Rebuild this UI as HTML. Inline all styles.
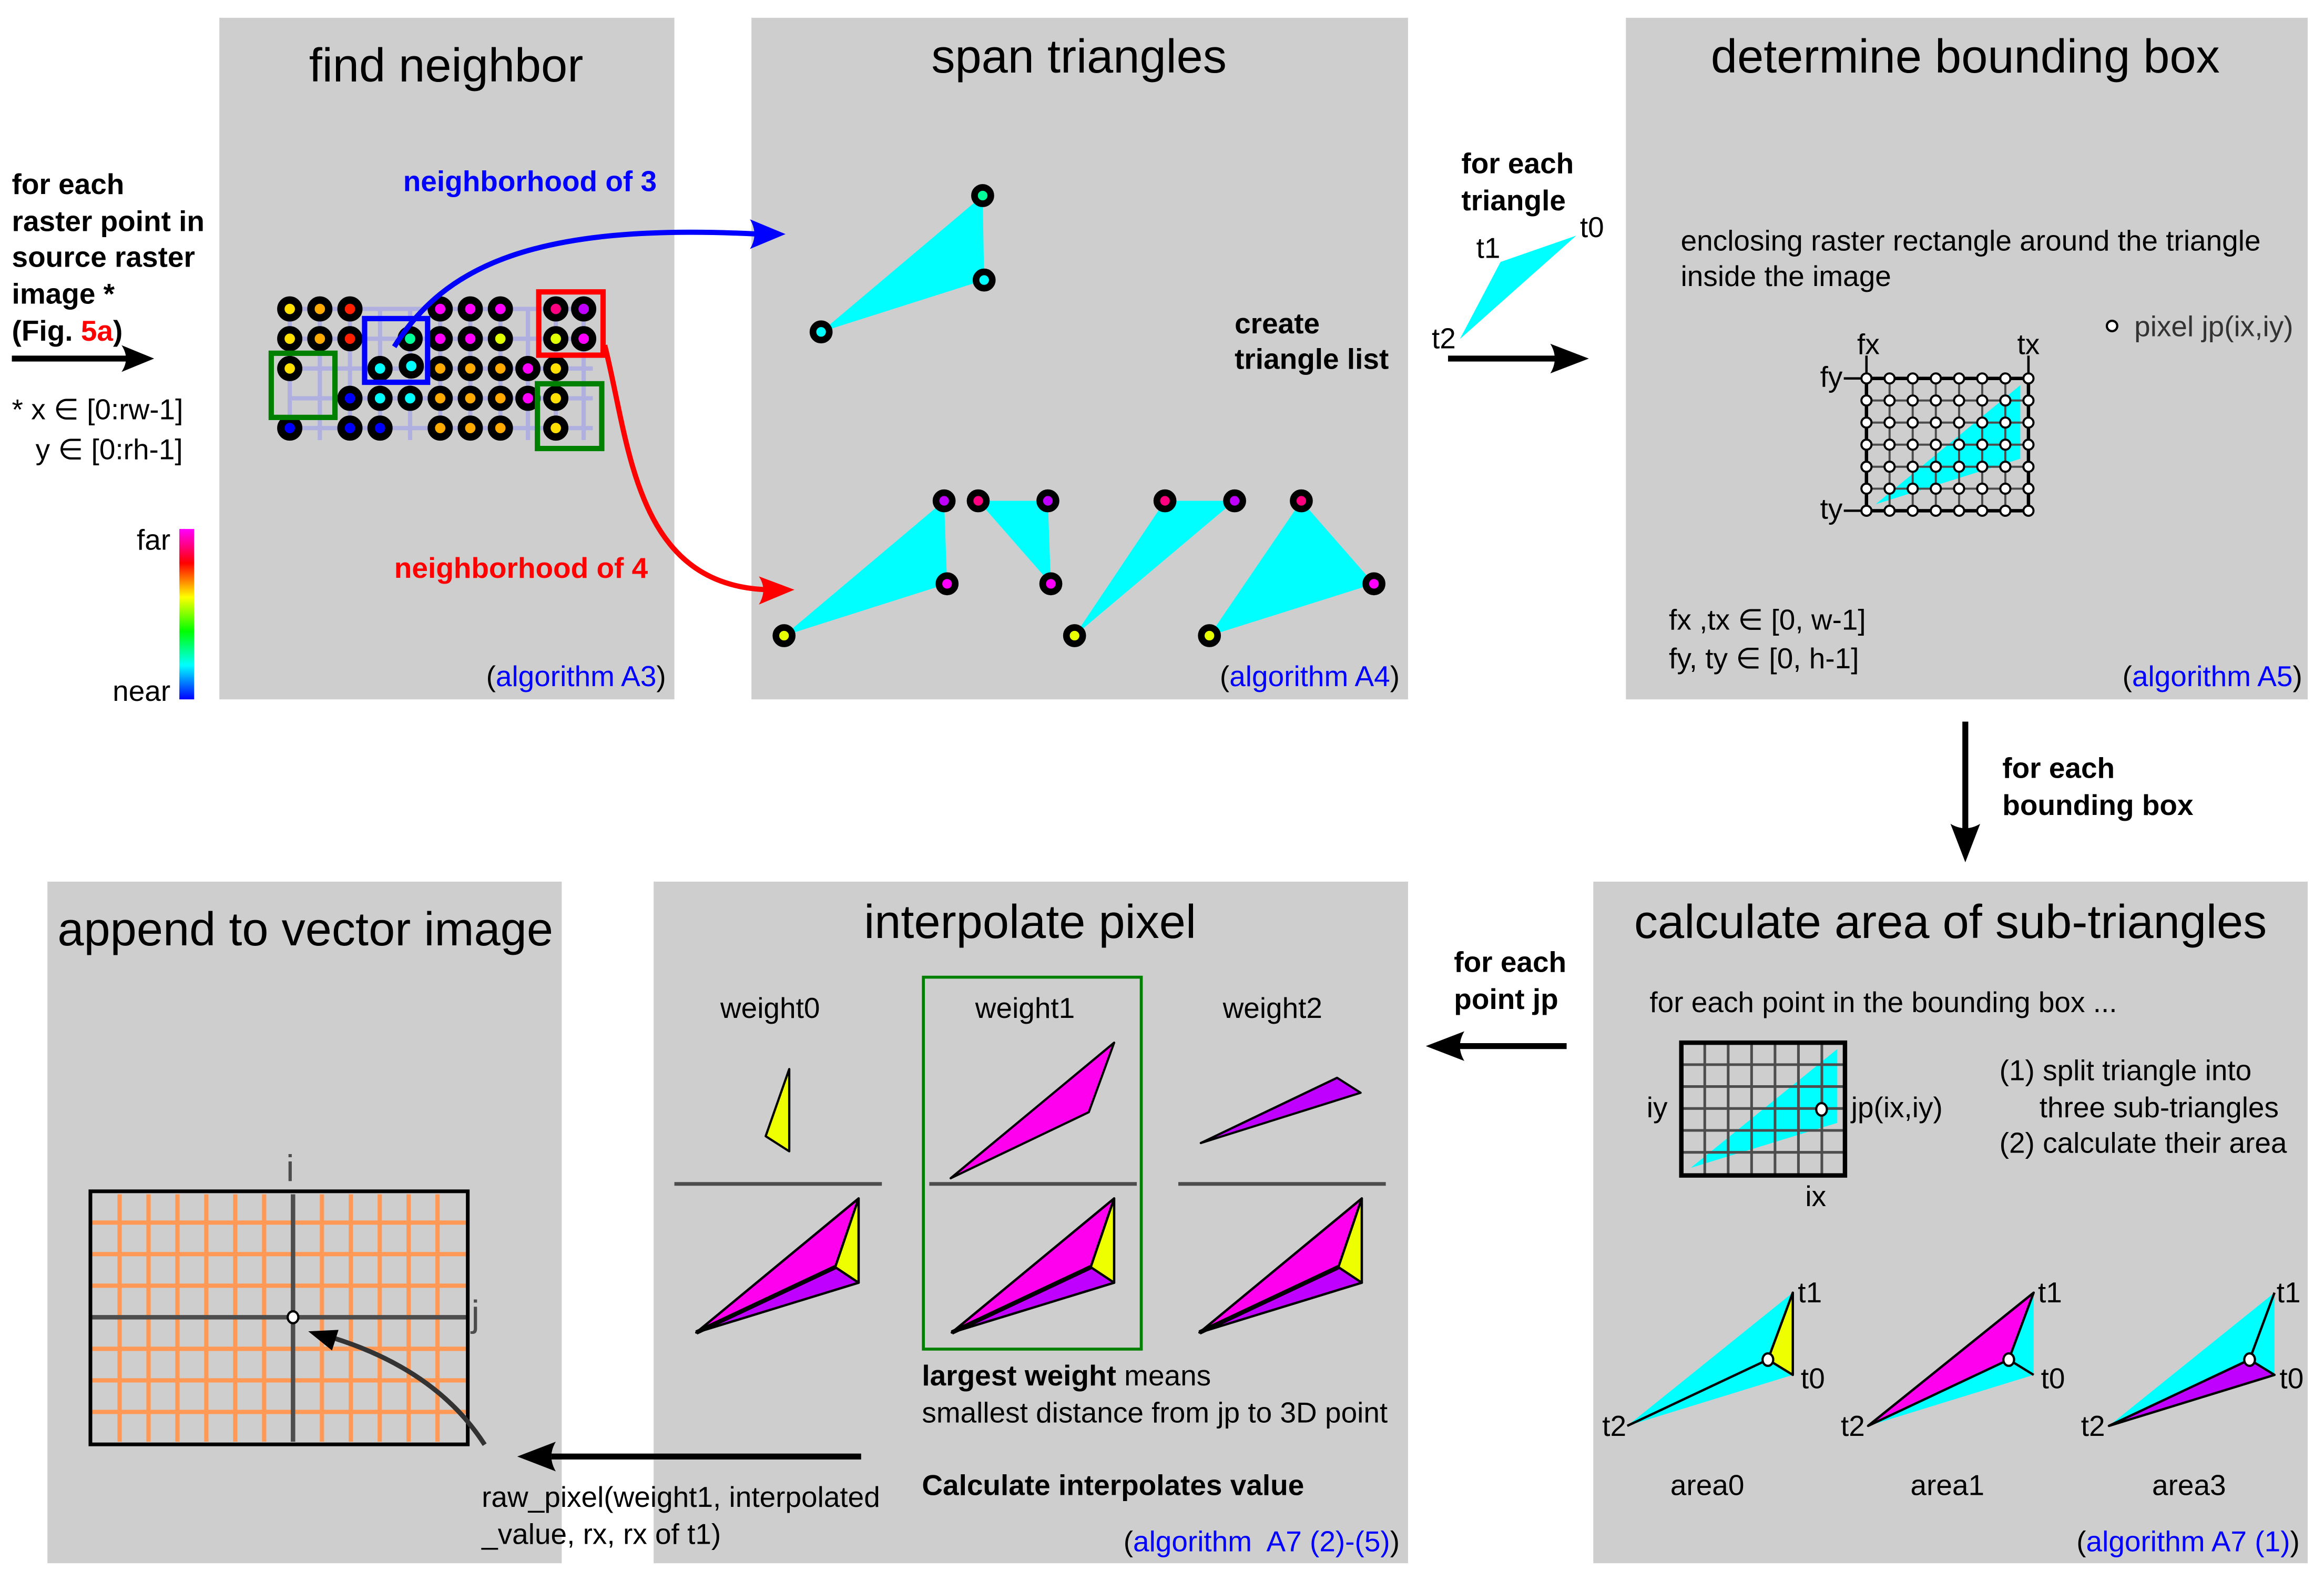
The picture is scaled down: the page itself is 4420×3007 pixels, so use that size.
<!DOCTYPE html>
<html><head><meta charset="utf-8"><style>
html,body{margin:0;padding:0;background:#fff;}
svg{display:block;}
text{font-family:"Liberation Sans",sans-serif;}
.t{font-size:32px;}
.b{font-size:19.5px;}
.bb{font-size:19.5px;font-weight:bold;}
.bl{fill:#0000ff;}
</style></head><body>
<svg xmlns="http://www.w3.org/2000/svg" width="4420" height="3007" viewBox="0 0 1568 1067" preserveAspectRatio="none">
<defs>
<linearGradient id="cb" x1="0" y1="0" x2="0" y2="1">
<stop offset="0" stop-color="#ff00ff"/><stop offset="0.2" stop-color="#ff0000"/><stop offset="0.4" stop-color="#ffff00"/><stop offset="0.6" stop-color="#00ff00"/><stop offset="0.8" stop-color="#00ffff"/><stop offset="1" stop-color="#0000ff"/>
</linearGradient>
</defs>
<rect width="1568" height="1067" fill="#fff"/>
<g fill="#cecece">
<rect x="148" y="12" width="307" height="460"/>
<rect x="507" y="12" width="443" height="460"/>
<rect x="1097" y="12" width="460" height="460"/>
<rect x="1075" y="595" width="482" height="460"/>
<rect x="441" y="595" width="509" height="460"/>
<rect x="32" y="595" width="347" height="460"/>
</g>
<text class="t" x="301" y="55" text-anchor="middle">find neighbor</text>
<text class="t" x="728" y="49" text-anchor="middle">span triangles</text>
<text class="t" x="1326" y="49" text-anchor="middle">determine bounding box</text>
<text class="t" x="1316" y="633" text-anchor="middle">calculate area of sub-triangles</text>
<text class="t" x="695" y="633" text-anchor="middle">interpolate pixel</text>
<text class="t" x="206" y="638" text-anchor="middle">append to vector image</text>

<text class="bb" x="8" y="131">for each</text>
<text class="bb" x="8" y="156">raster point in</text>
<text class="bb" x="8" y="180">source raster</text>
<text class="bb" x="8" y="205">image *</text>
<text class="bb" x="8" y="230">(Fig. <tspan fill="#ff0000">5a</tspan>)</text>
<line x1="8" y1="242" x2="90" y2="242" stroke="#000" stroke-width="4"/>
<path d="M104 242 L82 233 Q88 242 82 251 Z" fill="#000"/>
<text class="b" x="8" y="283">* x ∈ [0:rw-1]</text>
<text class="b" x="24" y="310">y ∈ [0:rh-1]</text>
<rect x="121" y="357" width="10" height="115" fill="url(#cb)"/>
<text class="b" x="115" y="371" text-anchor="end" font-size="17">far</text>
<text class="b" x="115" y="473" text-anchor="end" font-size="17">near</text>

<g stroke="#b0b0e0" stroke-width="2.9">
<line x1="195" y1="208.5" x2="400" y2="208.5"/><line x1="195" y1="228.6" x2="400" y2="228.6"/><line x1="195" y1="248.7" x2="400" y2="248.7"/><line x1="195" y1="268.8" x2="400" y2="268.8"/><line x1="195" y1="288.9" x2="400" y2="288.9"/>
<line x1="195.5" y1="208" x2="195.5" y2="297"/><line x1="215.8" y1="208" x2="215.8" y2="297"/><line x1="236.1" y1="208" x2="236.1" y2="297"/><line x1="256.4" y1="208" x2="256.4" y2="297"/><line x1="276.7" y1="208" x2="276.7" y2="297"/><line x1="297" y1="208" x2="297" y2="297"/><line x1="317.3" y1="208" x2="317.3" y2="297"/><line x1="337.6" y1="208" x2="337.6" y2="297"/><line x1="356.2" y1="208" x2="356.2" y2="297"/><line x1="375" y1="208" x2="375" y2="297"/><line x1="393.8" y1="208" x2="393.8" y2="297"/>
</g>
<g stroke="#000" stroke-width="5">
<circle cx="195.5" cy="208.5" r="6" fill="#ffe000"/><circle cx="215.8" cy="208.5" r="6" fill="#ffaa00"/><circle cx="236.1" cy="208.5" r="6" fill="#ff2000"/><circle cx="297" cy="208.5" r="6" fill="#ff00ff"/><circle cx="317.3" cy="208.5" r="6" fill="#ff00ff"/><circle cx="337.6" cy="208.5" r="6" fill="#ff00ff"/><circle cx="375" cy="208.5" r="6" fill="#ff0080"/><circle cx="393.8" cy="208.5" r="6" fill="#c000ff"/>
<circle cx="195.5" cy="228.6" r="6" fill="#ffe000"/><circle cx="215.8" cy="228.6" r="6" fill="#ffaa00"/><circle cx="236.1" cy="228.6" r="6" fill="#ff2000"/><circle cx="276.7" cy="228.6" r="6" fill="#00ff99"/><circle cx="297" cy="228.6" r="6" fill="#ff00ff"/><circle cx="317.3" cy="228.6" r="6" fill="#ff00ff"/><circle cx="337.6" cy="228.6" r="6" fill="#e0ff00"/><circle cx="375" cy="228.6" r="6" fill="#e0ff00"/><circle cx="393.8" cy="228.6" r="6" fill="#ff00ff"/>
<circle cx="195.5" cy="248.7" r="6" fill="#ffe000"/><circle cx="256.4" cy="248.7" r="6" fill="#00ffff"/><circle cx="277.5" cy="247" r="6" fill="#00ffff"/><circle cx="297" cy="248.7" r="6" fill="#ffaa00"/><circle cx="317.3" cy="248.7" r="6" fill="#ffaa00"/><circle cx="337.6" cy="248.7" r="6" fill="#ffaa00"/><circle cx="356.2" cy="248.7" r="6" fill="#ff00ff"/><circle cx="375" cy="248.7" r="6" fill="#ffe000"/>
<circle cx="236.1" cy="268.8" r="6" fill="#0000ff"/><circle cx="256.4" cy="268.8" r="6" fill="#00ffff"/><circle cx="276.7" cy="268.8" r="6" fill="#00ffff"/><circle cx="297" cy="268.8" r="6" fill="#ffaa00"/><circle cx="317.3" cy="268.8" r="6" fill="#ffaa00"/><circle cx="337.6" cy="268.8" r="6" fill="#ffaa00"/><circle cx="356.2" cy="268.8" r="6" fill="#ff00ff"/><circle cx="375" cy="268.8" r="6" fill="#ffe000"/>
<circle cx="195.5" cy="288.9" r="6" fill="#0000ff"/><circle cx="236.1" cy="288.9" r="6" fill="#0000ff"/><circle cx="256.4" cy="288.9" r="6" fill="#0000ff"/><circle cx="297" cy="288.9" r="6" fill="#ffaa00"/><circle cx="317.3" cy="288.9" r="6" fill="#ffaa00"/><circle cx="337.6" cy="288.9" r="6" fill="#ffaa00"/><circle cx="375" cy="288.9" r="6" fill="#ffe000"/>
</g>
<g fill="none" stroke-width="3.6">
<rect x="246" y="215" width="42.5" height="43" stroke="#0000ff"/>
<rect x="363.5" y="197" width="43.4" height="42.7" stroke="#ff0000"/>
<rect x="183" y="238.4" width="43" height="43.3" stroke="#008000"/>
<rect x="362.6" y="259" width="43.4" height="43.7" stroke="#008000"/>
</g>
<path d="M266 234 C300 180 360 150 512 158" fill="none" stroke="#0000ff" stroke-width="3.5"/>
<path d="M530 158 L506 148 Q512 158 506 168 Z" fill="#0000ff"/>
<path d="M408 233 C425 300 428 395 518 398" fill="none" stroke="#ff0000" stroke-width="3.5"/>
<path d="M536 398 L512 389 Q518 398 512 408 Z" fill="#ff0000"/>
<text class="bb" x="272" y="129" fill="#0000ff">neighborhood of 3</text>
<text class="bb" x="266" y="390" fill="#ff0000">neighborhood of 4</text>
<text class="b" x="328" y="463">(<tspan class="bl">algorithm A3</tspan>)</text>

<g fill="#00ffff">
<polygon points="663,132 664,189 554,224"/>
<polygon points="637,338 639,394 529,429"/>
<polygon points="660,338 707,338 709,394"/>
<polygon points="786,338 833,338 725,429"/>
<polygon points="878,338 927,394 816,429"/>
</g>
<g stroke="#000" stroke-width="4.5">
<circle cx="663" cy="132" r="5.5" fill="#00ff99"/><circle cx="664" cy="189" r="5.5" fill="#00ffff"/><circle cx="554" cy="224" r="5.5" fill="#00ffff"/>
<circle cx="637" cy="338" r="5.5" fill="#c000ff"/><circle cx="639" cy="394" r="5.5" fill="#ff00ff"/><circle cx="529" cy="429" r="5.5" fill="#e8ff00"/>
<circle cx="660" cy="338" r="5.5" fill="#ff0080"/><circle cx="707" cy="338" r="5.5" fill="#c000ff"/><circle cx="709" cy="394" r="5.5" fill="#ff00ff"/>
<circle cx="786" cy="338" r="5.5" fill="#ff0080"/><circle cx="833" cy="338" r="5.5" fill="#c000ff"/><circle cx="725" cy="429" r="5.5" fill="#e8ff00"/>
<circle cx="878" cy="338" r="5.5" fill="#ff0080"/><circle cx="927" cy="394" r="5.5" fill="#ff00ff"/><circle cx="816" cy="429" r="5.5" fill="#e8ff00"/>
</g>
<text class="bb" x="833" y="225">create</text>
<text class="bb" x="833" y="249">triangle list</text>
<text class="b" x="823" y="463">(<tspan class="bl">algorithm A4</tspan>)</text>

<text class="bb" x="986" y="117">for each</text>
<text class="bb" x="986" y="142">triangle</text>
<polygon points="1063.5,159 1012.4,176.8 985,228.8" fill="#00ffff"/>
<text class="b" x="1066" y="160">t0</text>
<text class="b" x="996" y="174">t1</text>
<text class="b" x="966" y="235">t2</text>
<line x1="977" y1="242" x2="1050" y2="242" stroke="#000" stroke-width="4"/>
<path d="M1072 242 L1046 232 Q1052 242 1046 252 Z" fill="#000"/>

<text class="b" x="1134" y="169">enclosing raster rectangle around the triangle</text>
<text class="b" x="1134" y="193">inside the image</text>
<circle cx="1425" cy="220" r="3.5" fill="#fff" stroke="#000" stroke-width="1.5"/>
<text class="b" x="1440" y="227" fill="#333">pixel jp(ix,iy)</text>
<polygon points="1363.1,259.9 1363.1,309.6 1265.5,340.3" fill="#00ffff"/>
<g stroke="#4d4d4d" stroke-width="1.4">
<line x1="1259.3" y1="270.3" x2="1368.6" y2="270.3"/><line x1="1259.3" y1="285.2" x2="1368.6" y2="285.2"/><line x1="1259.3" y1="300.1" x2="1368.6" y2="300.1"/><line x1="1259.3" y1="315" x2="1368.6" y2="315"/><line x1="1259.3" y1="329.8" x2="1368.6" y2="329.8"/>
<line x1="1274.9" y1="255.4" x2="1274.9" y2="344.7"/><line x1="1290.5" y1="255.4" x2="1290.5" y2="344.7"/><line x1="1306.1" y1="255.4" x2="1306.1" y2="344.7"/><line x1="1321.8" y1="255.4" x2="1321.8" y2="344.7"/><line x1="1337.4" y1="255.4" x2="1337.4" y2="344.7"/><line x1="1353" y1="255.4" x2="1353" y2="344.7"/>
</g>
<rect x="1259.3" y="255.4" width="109.3" height="89.3" fill="none" stroke="#000" stroke-width="2.3"/>
<g stroke="#000" stroke-width="1.6">
<line x1="1259.3" y1="240" x2="1259.3" y2="255"/><line x1="1368.6" y1="240" x2="1368.6" y2="255"/>
<line x1="1244" y1="255.4" x2="1259" y2="255.4"/><line x1="1244" y1="344.7" x2="1259" y2="344.7"/>
</g>
<g fill="#fff" stroke="#000" stroke-width="1.4">
<g id="gr">
<circle cx="1259.3" cy="255.4" r="3.4"/><circle cx="1274.9" cy="255.4" r="3.4"/><circle cx="1290.5" cy="255.4" r="3.4"/><circle cx="1306.1" cy="255.4" r="3.4"/><circle cx="1321.8" cy="255.4" r="3.4"/><circle cx="1337.4" cy="255.4" r="3.4"/><circle cx="1353" cy="255.4" r="3.4"/><circle cx="1368.6" cy="255.4" r="3.4"/>
</g>
<use href="#gr" y="14.9"/><use href="#gr" y="29.8"/><use href="#gr" y="44.7"/><use href="#gr" y="59.6"/><use href="#gr" y="74.4"/><use href="#gr" y="89.3"/>
</g>
<text class="b" x="1253" y="239">fx</text>
<text class="b" x="1361" y="239">tx</text>
<text class="b" x="1228" y="261">fy</text>
<text class="b" x="1228" y="350">ty</text>
<text class="b" x="1126" y="425">fx ,tx ∈ [0, w-1]</text>
<text class="b" x="1126" y="451">fy, ty ∈ [0, h-1]</text>
<text class="b" x="1432" y="463">(<tspan class="bl">algorithm A5</tspan>)</text>

<line x1="1326" y1="487" x2="1326" y2="560" stroke="#000" stroke-width="4"/>
<path d="M1326 582 L1316 556 Q1326 562 1336 556 Z" fill="#000"/>
<text class="bb" x="1351" y="525">for each</text>
<text class="bb" x="1351" y="550">bounding box</text>

<text class="b" x="1113" y="683">for each point in the bounding box ...</text>
<polygon points="1239.6,708 1239.6,757.8 1140.7,788.2" fill="#00ffff"/>
<g stroke="#4d4d4d" stroke-width="1.8">
<line x1="1134.4" y1="718.5" x2="1244.8" y2="718.5"/><line x1="1134.4" y1="733.3" x2="1244.8" y2="733.3"/><line x1="1134.4" y1="748.1" x2="1244.8" y2="748.1"/><line x1="1134.4" y1="762.9" x2="1244.8" y2="762.9"/><line x1="1134.4" y1="777.7" x2="1244.8" y2="777.7"/>
<line x1="1150.2" y1="703.7" x2="1150.2" y2="793.3"/><line x1="1166" y1="703.7" x2="1166" y2="793.3"/><line x1="1181.8" y1="703.7" x2="1181.8" y2="793.3"/><line x1="1197.6" y1="703.7" x2="1197.6" y2="793.3"/><line x1="1213.4" y1="703.7" x2="1213.4" y2="793.3"/><line x1="1229.2" y1="703.7" x2="1229.2" y2="793.3"/>
</g>
<rect x="1134.4" y="703.7" width="110.4" height="89.6" fill="none" stroke="#000" stroke-width="3"/>
<ellipse cx="1229" cy="748.7" rx="3.6" ry="4.2" fill="#fff" stroke="#000" stroke-width="1.5"/>
<text class="b" x="1111" y="754">iy</text>
<text class="b" x="1249" y="754">jp(ix,iy)</text>
<text class="b" x="1218" y="814">ix</text>
<text class="b" x="1349" y="729">(1) split triangle into</text>
<text class="b" x="1376" y="754">three sub-triangles</text>
<text class="b" x="1349" y="778">(2) calculate their area</text>
<polygon points="1209.6,872.4 1209.6,927.9 1097.9,962.3" fill="#00ffff"/>
<polygon points="1192.8,917.6 1209.6,872.4 1209.6,927.9" fill="#eeff00" stroke="#000" stroke-width="1.6" stroke-linejoin="round"/>
<line x1="1192.8" y1="917.6" x2="1097.9" y2="962.3" stroke="#000" stroke-width="1.6"/>
<ellipse cx="1192.8" cy="917.6" rx="3.6" ry="4.2" fill="#fff" stroke="#000" stroke-width="1.5"/>
<g transform="translate(162.5,0)">
<polygon points="1209.6,872.4 1209.6,927.9 1097.9,962.3" fill="#00ffff"/>
<polygon points="1097.9,962.3 1209.6,872.4 1192.8,917.6" fill="#ff00ee" stroke="#000" stroke-width="1.6" stroke-linejoin="round"/>
<line x1="1192.8" y1="917.6" x2="1209.6" y2="927.9" stroke="#000" stroke-width="1.6"/>
<ellipse cx="1192.8" cy="917.6" rx="3.6" ry="4.2" fill="#fff" stroke="#000" stroke-width="1.5"/>
</g>
<g transform="translate(325,0)">
<polygon points="1209.6,872.4 1209.6,927.9 1097.9,962.3" fill="#00ffff"/>
<polygon points="1097.9,962.3 1192.8,917.6 1209.6,927.9" fill="#c000ff" stroke="#000" stroke-width="1.6" stroke-linejoin="round"/>
<line x1="1192.8" y1="917.6" x2="1209.6" y2="872.4" stroke="#000" stroke-width="1.6"/>
<ellipse cx="1192.8" cy="917.6" rx="3.6" ry="4.2" fill="#fff" stroke="#000" stroke-width="1.5"/>
</g>
<text class="b" x="1213" y="879">t1</text><text class="b" x="1215" y="937">t0</text><text class="b" x="1081" y="969">t2</text>
<text class="b" x="1375" y="879">t1</text><text class="b" x="1377" y="937">t0</text><text class="b" x="1242" y="969">t2</text>
<text class="b" x="1536" y="879">t1</text><text class="b" x="1538" y="937">t0</text><text class="b" x="1404" y="969">t2</text>
<text class="b" x="1127" y="1009">area0</text>
<text class="b" x="1289" y="1009">area1</text>
<text class="b" x="1452" y="1009">area3</text>
<text class="b" x="1401" y="1047">(<tspan class="bl">algorithm A7 (1)</tspan>)</text>

<text class="bb" x="981" y="656">for each</text>
<text class="bb" x="981" y="681">point jp</text>
<line x1="984" y1="706" x2="1057" y2="706" stroke="#000" stroke-width="4"/>
<path d="M962 706 L988 696 Q982 706 988 716 Z" fill="#000"/>

<text class="b" x="486" y="687">weight0</text>
<text class="b" x="658" y="687">weight1</text>
<text class="b" x="825" y="687">weight2</text>
<rect x="623" y="659.5" width="147" height="251" fill="none" stroke="#008000" stroke-width="2"/>
<g stroke="#4d4d4d" stroke-width="2.5">
<line x1="455" y1="799" x2="595" y2="799"/><line x1="627" y1="799" x2="767" y2="799"/><line x1="795" y1="799" x2="935" y2="799"/>
</g>
<g stroke="#000" stroke-width="1.5" stroke-linejoin="round">
<polygon points="532.5,721.5 516.6,766.8 532.5,777" fill="#eeff00"/>
<polygon points="751.7,703.7 734.6,750.6 641.4,795.2" fill="#ff00ee"/>
<polygon points="902.1,727.4 918,737.5 810.2,771.4" fill="#c000ff"/>
</g>
<g id="cmp" stroke="#000" stroke-width="1.6" stroke-linejoin="round">
<polygon points="469.8,899.3 579.3,808.8 563.5,855.2" fill="#ff00ee"/>
<polygon points="563.5,855.2 579.3,808.8 579.3,865.7" fill="#eeff00"/>
<polygon points="469.8,899.3 563.5,855.2 579.3,865.7" fill="#c000ff"/>
<line x1="469.8" y1="899.3" x2="563.5" y2="855.2" stroke-width="3"/>
</g>
<use href="#cmp" x="172.4"/>
<use href="#cmp" x="339.5"/>
<text class="b" x="622" y="935"><tspan font-weight="bold">largest weight</tspan> means</text>
<text class="b" x="622" y="960">smallest distance from jp to 3D point</text>
<text class="bb" x="622" y="1009">Calculate interpolates value</text>
<text class="b" x="758" y="1047">(<tspan class="bl">algorithm&#160; A7 (2)-(5)</tspan>)</text>

<line x1="372" y1="983" x2="581" y2="983" stroke="#000" stroke-width="4"/>
<path d="M349 983 L375 973 Q369 983 375 993 Z" fill="#000"/>
<text class="b" x="325" y="1017">raw_pixel(weight1, interpolated</text>
<text class="b" x="325" y="1042">_value, rx, rx of t1)</text>

<g stroke="#ff9955" stroke-width="2.9">
<line x1="80.7" y1="806" x2="80.7" y2="973"/><line x1="100.2" y1="806" x2="100.2" y2="973"/><line x1="119.7" y1="806" x2="119.7" y2="973"/><line x1="139.2" y1="806" x2="139.2" y2="973"/><line x1="158.7" y1="806" x2="158.7" y2="973"/><line x1="178.2" y1="806" x2="178.2" y2="973"/><line x1="217.2" y1="806" x2="217.2" y2="973"/><line x1="236.7" y1="806" x2="236.7" y2="973"/><line x1="256.2" y1="806" x2="256.2" y2="973"/><line x1="275.7" y1="806" x2="275.7" y2="973"/><line x1="295.2" y1="806" x2="295.2" y2="973"/>
<line x1="61" y1="825.1" x2="315" y2="825.1"/><line x1="61" y1="846.4" x2="315" y2="846.4"/><line x1="61" y1="867.7" x2="315" y2="867.7"/><line x1="61" y1="910.3" x2="315" y2="910.3"/><line x1="61" y1="931.6" x2="315" y2="931.6"/><line x1="61" y1="952.9" x2="315" y2="952.9"/>
</g>
<g stroke="#4d4d4d" stroke-width="3">
<line x1="197.7" y1="806" x2="197.7" y2="973"/><line x1="61" y1="889" x2="315" y2="889"/>
</g>
<rect x="61" y="804" width="254.6" height="170.8" fill="none" stroke="#000" stroke-width="2.5"/>
<ellipse cx="197.7" cy="889" rx="3.6" ry="4" fill="#fff" stroke="#000" stroke-width="1.5"/>
<text x="193" y="797" fill="#4d4d4d" font-size="25">i</text>
<text x="318" y="895" fill="#4d4d4d" font-size="25">j</text>
<path d="M327 975 Q295 925 225 903" fill="none" stroke="#333" stroke-width="3.2"/>
<polygon points="208,898.5 228.4,897.5 224,911.4" fill="#000"/>
</svg>
</body></html>
